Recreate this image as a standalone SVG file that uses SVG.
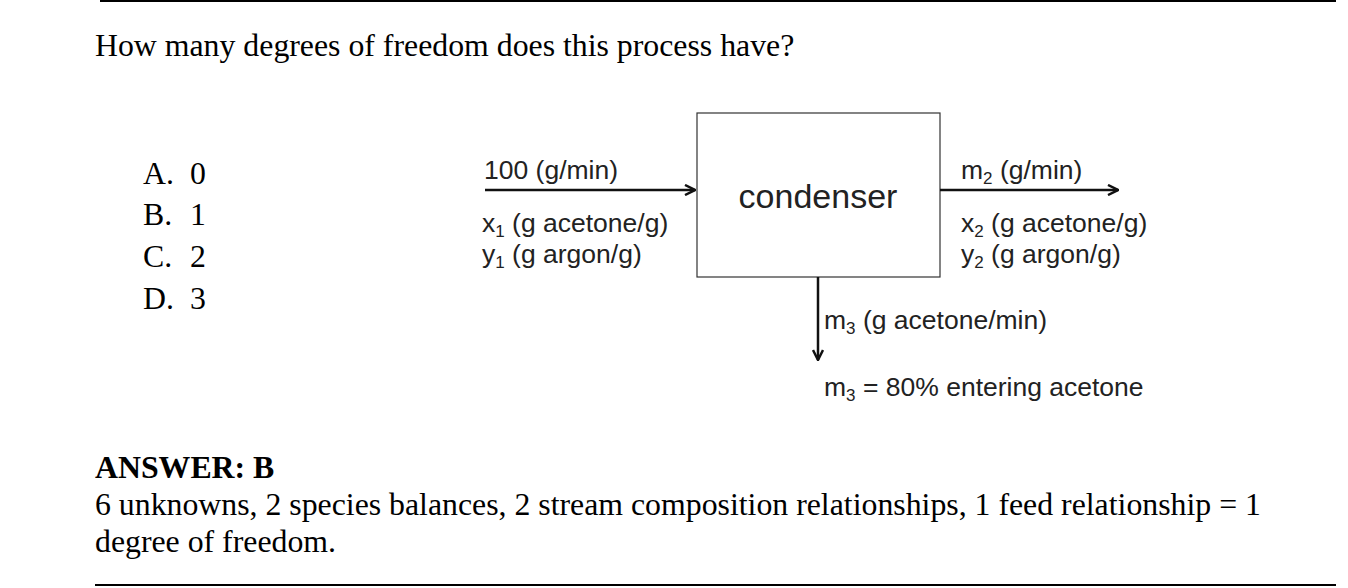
<svg xmlns="http://www.w3.org/2000/svg" width="1348" height="588" viewBox="0 0 1348 588">
<style>
.s{font-family:"Liberation Serif",serif;font-size:31.8px;fill:#000}
.a{font-family:"Liberation Sans",Arial,sans-serif;font-size:26.5px;fill:#222}
.c{font-size:34px}
.b{font-size:17px}
.ln{stroke:#111;stroke-width:2.5;fill:none}
</style>
<defs><marker id="ah" viewBox="0 0 10 10" refX="9" refY="5" markerWidth="5" markerHeight="5" orient="auto"><path d="M1,1 L9,5 L1,9" fill="none" stroke="#111" stroke-width="2"/></marker></defs>
<rect width="1348" height="588" fill="#fff"/>
<line x1="100" y1="1" x2="1336" y2="1" stroke="#000" stroke-width="2"/>
<line x1="95" y1="585" x2="1336" y2="585" stroke="#000" stroke-width="2"/>
<text class="s" x="95" y="56">How many degrees of freedom does this process have?</text>
<g id="options">
<text class="s" x="143" y="184">A.</text><text class="s" x="190" y="184">0</text>
<text class="s" x="143" y="225">B.</text><text class="s" x="190" y="225">1</text>
<text class="s" x="143" y="267">C.</text><text class="s" x="190" y="267">2</text>
<text class="s" x="143" y="309">D.</text><text class="s" x="190" y="309">3</text>
</g>
<g id="condenser">
<rect x="697" y="113" width="243" height="164" fill="#fff" stroke="#333" stroke-width="1.2"/>
<text class="a c" x="818" y="208" text-anchor="middle">condenser</text>
</g>
<g id="connectors">
<line class="ln" x1="485" y1="190" x2="695" y2="190" marker-end="url(#ah)"/>
<line class="ln" x1="940" y1="190" x2="1118" y2="190" marker-end="url(#ah)"/>
<line class="ln" x1="818" y1="277" x2="818" y2="360" marker-end="url(#ah)"/>
</g>
<g id="labels">
<text class="a" x="484" y="179">100 (g/min)</text>
<text class="a" x="482" y="232">x<tspan class="b" dy="5">1</tspan><tspan dy="-5"> (g acetone/g)</tspan></text>
<text class="a" x="482" y="263">y<tspan class="b" dy="5">1</tspan><tspan dy="-5"> (g argon/g)</tspan></text>
<text class="a" x="961" y="179">m<tspan class="b" dy="5">2</tspan><tspan dy="-5"> (g/min)</tspan></text>
<text class="a" x="961" y="232">x<tspan class="b" dy="5">2</tspan><tspan dy="-5"> (g acetone/g)</tspan></text>
<text class="a" x="961" y="263">y<tspan class="b" dy="5">2</tspan><tspan dy="-5"> (g argon/g)</tspan></text>
<text class="a" x="824" y="329">m<tspan class="b" dy="5">3</tspan><tspan dy="-5"> (g acetone/min)</tspan></text>
<text class="a" x="824" y="396">m<tspan class="b" dy="5">3</tspan><tspan dy="-5"> = 80% entering acetone</tspan></text>
</g>
<text class="s" x="95" y="478" font-weight="bold">ANSWER: B</text>
<text class="s" x="95" y="515">6 unknowns, 2 species balances, 2 stream composition relationships, 1 feed relationship = 1</text>
<text class="s" x="95" y="552">degree of freedom.</text>
</svg>
